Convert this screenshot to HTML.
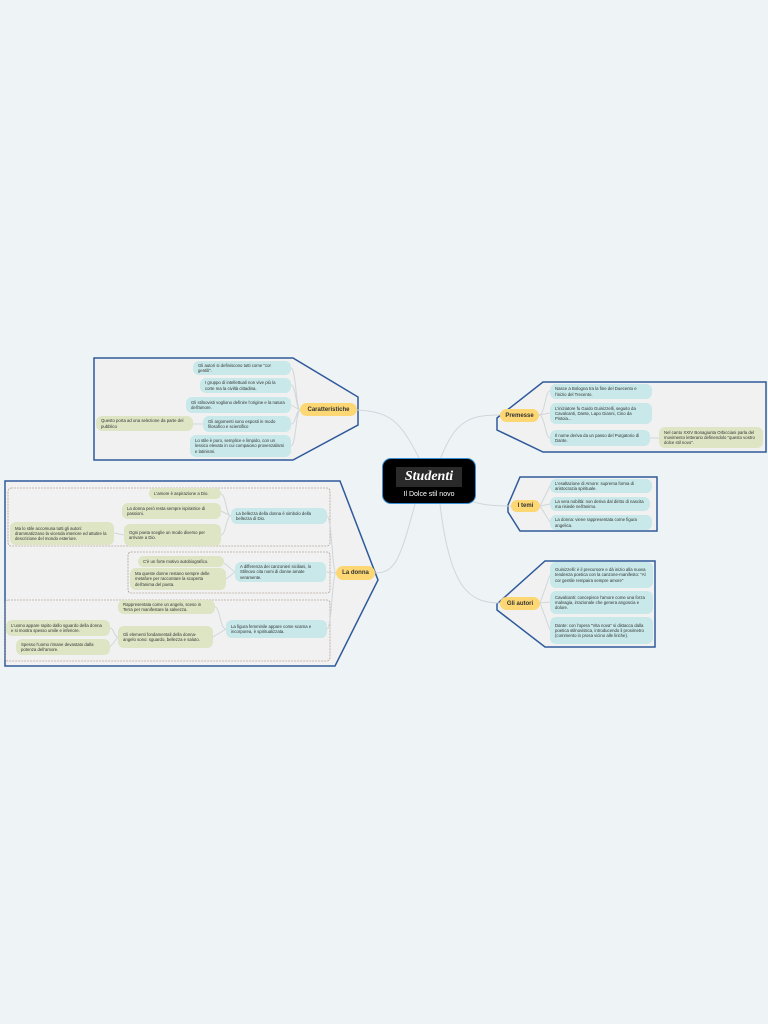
<!DOCTYPE html>
<html><head><meta charset="utf-8"><style>
body{margin:0;width:768px;height:1024px;background:#eef3f6;position:relative;overflow:hidden;font-family:"Liberation Sans",sans-serif}
.n{position:absolute;font-size:4.3px;line-height:5.2px;color:#333;border-radius:6px;padding:2px 5px;box-sizing:border-box;display:flex;align-items:center}
.c{background:#c8e8e9}.g{background:#dde5c4}
.l{position:absolute;background:#fcd773;border-radius:8px;font-size:6px;font-weight:bold;color:#333;display:flex;align-items:center;justify-content:center}
svg{position:absolute;left:0;top:0}
</style></head><body>
<svg width="768" height="1024">
<g fill="#f1f1f1" stroke="#2f5a9a" stroke-width="1.5">
<polygon points="94,358 293,358 358,397 358,425 293,460 94,460"/>
<polygon points="5,481 340,481 378,580 335,666 5,666"/>
<polygon points="497,418 543,382 766,382 766,452 543,452 497,430"/>
<polygon points="508,505 520,477 657,477 657,531 520,531 508,512"/>
<polygon points="497,604 545,561 655,561 655,647 545,647 497,610"/>
</g>
<g fill="none" stroke="#a0887a" stroke-width=".6" stroke-dasharray="2,1">
<rect x="8" y="488" width="322" height="58" rx="3"/>
<rect x="128" y="552" width="202" height="41" rx="3"/>
<rect x="5" y="600" width="325" height="61" rx="3"/>
</g>
<g fill="none" stroke="#d0d6da" stroke-width="1">
<path d="M420,460 C400,420 390,412 357,410"/>
<path d="M415,504 C400,560 395,573 375,573"/>
<path d="M440,460 C455,420 470,415 500,415"/>
<path d="M450,490 C470,505 490,506 511,506"/>
<path d="M440,504 C450,590 470,603 500,603"/>
<path d="M291,368 C296,368 296,410 300,410 M291,385 C296,385 296,410 300,410 M291,405 L300,410 M291,424 C296,424 296,410 300,410 M291,446 C296,446 296,410 300,410 M193,424 L203,424"/>
<path d="M327,516 C332,516 332,573 336,573 M326,572 L336,573 M327,629 C332,629 332,573 336,573"/>
<path d="M221,494 C226,494 226,516 231,516 M221,511 L231,516 M221,535 C226,535 226,516 231,516 M114,533 L124,535"/>
<path d="M224,563 L235,572 M226,579 L235,572 M215,607 C220,607 220,629 226,629 M213,637 L226,629 M110,628 C114,628 114,637 118,637 M110,647 L118,637"/>
<path d="M539,415 C545,415 545,391 550,391 M539,415 L550,413 M539,415 C545,415 545,438 550,438 M650,438 L659,438"/>
<path d="M540,506 L550,486 M540,506 L550,504 M540,506 L550,522"/>
<path d="M540,603 L550,575 M540,603 L550,602 M540,603 L550,630"/>
</g>
</svg>
<div style="position:absolute;left:382px;top:458px;width:94px;height:46px;background:#000;border:1.5px solid #3a8fd6;border-radius:9px;box-sizing:border-box"></div>
<div style="position:absolute;left:396px;top:467px;width:66px;height:20px;background:#2a2a2a;color:#fff;font-family:'Liberation Serif',serif;font-style:italic;font-weight:bold;font-size:14px;text-align:center;line-height:20px">Studenti</div>
<div style="position:absolute;left:382px;top:491px;width:94px;color:#fff;font-size:7px;text-align:center">Il Dolce stil novo</div>

<div class="l" style="left:300px;top:403px;width:57px;height:13px">Caratteristiche</div>
<div class="n c" style="left:193px;top:361px;width:98px;height:14px">Gli autori si definiscono tutti come "cor gentili".</div>
<div class="n c" style="left:200px;top:378px;width:91px;height:15px">I gruppo di intellettuali non vive più la corte ma la civiltà cittadina.</div>
<div class="n c" style="left:186px;top:397px;width:105px;height:16px">Gli stilnovisti vogliono definire l'origine e la natura dell'amore.</div>
<div class="n c" style="left:203px;top:416px;width:88px;height:16px">Gli argomenti sono esposti in modo filosofico e scientifico</div>
<div class="n g" style="left:96px;top:416px;width:97px;height:15px">Questo porta ad una selezione da parte del pubblico</div>
<div class="n c" style="left:190px;top:435px;width:101px;height:22px">Lo stile è puro, semplice e limpido, con un lessico elevato in cui compaiono provenzalismi e latinismi.</div>

<div class="l" style="left:336px;top:566px;width:39px;height:14px">La donna</div>
<div class="n g" style="left:149px;top:488px;width:72px;height:11px">L'amore è aspirazione a Dio.</div>
<div class="n g" style="left:122px;top:503px;width:99px;height:16px">La donna però resta sempre ispiratrice di passioni.</div>
<div class="n g" style="left:124px;top:524px;width:97px;height:22px">Ogni poeta sceglie un modo diverso per arrivare a Dio.</div>
<div class="n c" style="left:231px;top:508px;width:96px;height:16px">La bellezza della donna è simbolo della bellezza di Dio.</div>
<div class="n g" style="left:10px;top:522px;width:104px;height:23px">Ma lo stile accomuna tutti gli autori: drammatizzano la vicenda interiore ed attutire la descrizione del mondo esteriore.</div>
<div class="n g" style="left:138px;top:556px;width:86px;height:11px">C'è un forte motivo autobiografico.</div>
<div class="n g" style="left:130px;top:568px;width:96px;height:22px">Ma queste donne restano sempre delle metafore per raccontare la scoperta dell'anima del poeta.</div>
<div class="n c" style="left:235px;top:562px;width:91px;height:20px">A differenza dei canzonieri siciliani, lo Stilnovo cita nomi di donne amate veramente.</div>
<div class="n g" style="left:118px;top:600px;width:97px;height:14px">Rappresentata come un angelo, sceso in Terra per manifestare la salvezza.</div>
<div class="n g" style="left:118px;top:626px;width:95px;height:22px">Gli elementi fondamentali della donna-angelo sono: sguardo, bellezza e saluto.</div>
<div class="n c" style="left:226px;top:620px;width:101px;height:18px">La figura femminile appare come scarna e incorporea, è spiritualizzata.</div>
<div class="n g" style="left:6px;top:620px;width:104px;height:16px">L'uomo appare rapito dallo sguardo della donna e si mostra spesso umile e inferiore.</div>
<div class="n g" style="left:16px;top:639px;width:94px;height:16px">Spesso l'uomo rimane devastato dalla potenza dell'amore.</div>

<div class="l" style="left:500px;top:409px;width:39px;height:13px">Premesse</div>
<div class="n c" style="left:550px;top:384px;width:102px;height:15px">Nasce a Bologna tra la fine del Duecento e l'inizio del Trecento.</div>
<div class="n c" style="left:550px;top:403px;width:102px;height:21px">L'iniziatore fu Guido Guinizzelli, seguito da Cavalcanti, Dante, Lapo Gianni, Cino da Pistoia...</div>
<div class="n c" style="left:550px;top:430px;width:100px;height:16px">Il nome deriva da un passo del Purgatorio di Dante.</div>
<div class="n g" style="left:659px;top:427px;width:104px;height:21px">Nel canto XXIV Bonagiunta Orbicciani parla del movimento letterario definendolo "questo vostro dolce stil novo".</div>

<div class="l" style="left:511px;top:500px;width:29px;height:12px">I temi</div>
<div class="n c" style="left:550px;top:479px;width:102px;height:14px">L'esaltazione di Amore: suprema forma di aristocrazia spirituale.</div>
<div class="n c" style="left:550px;top:497px;width:100px;height:14px">La vera nobiltà: non deriva dal diritto di nascita ma risiede nell'animo.</div>
<div class="n c" style="left:550px;top:515px;width:102px;height:15px">La donna: viene rappresentata come figura angelica.</div>

<div class="l" style="left:500px;top:597px;width:40px;height:13px">Gli autori</div>
<div class="n c" style="left:550px;top:562px;width:103px;height:26px">Guinizzelli: è il precursore e dà inizio alla nuova tendenza poetica con la canzone-manifesto: "Al cor gentile rempaira sempre amore"</div>
<div class="n c" style="left:550px;top:591px;width:103px;height:23px">Cavalcanti: concepisce l'amore come una forza malvagia, irrazionale che genera angoscia e dolore.</div>
<div class="n c" style="left:550px;top:617px;width:103px;height:27px">Dante: con l'opera "Vita nova" si distacca dalla poetica stilnovistica, introducendo il prosimetro (commento in prosa vicino alle liriche).</div>
</body></html>
